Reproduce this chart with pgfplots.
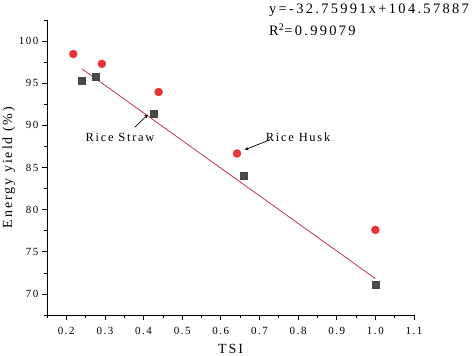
\documentclass[border=0pt]{standalone}
\usepackage{pgfplots}
\pgfplotsset{compat=1.18}
\usepackage{fontspec}
\setmainfont{Liberation Serif}[LetterSpace=14]
\newfontfamily\eqfont{Liberation Serif}[LetterSpace=16]
\definecolor{ptred}{RGB}{232,52,52}
\definecolor{sqgray}{RGB}{72,72,72}
\definecolor{fitred}{RGB}{190,55,65}
\begin{document}
\begin{tikzpicture}
\path[use as bounding box] (-47bp,-41bp) rectangle (427bp,315bp);
\begin{axis}[
  at={(0,0)}, anchor=south west,
  scale only axis, width=367bp, height=295bp,
  xmin=0.15, xmax=1.1, ymin=67.5, ymax=102.5,
  axis lines=left, axis line style={-, line width=0.8pt},
  xtick={0.2,0.3,...,1.1},
  xticklabels={0.2,0.3,0.4,0.5,0.6,0.7,0.8,0.9,1.0,1.1},
  ytick={70,75,...,100},
  minor xtick={0.15,0.25,...,1.05},
  minor ytick={67.5,72.5,...,102.5},
  tick align=outside,
  major tick length=5bp, minor tick length=3bp,
  tick style={line width=0.7pt, black},
  tick label style={font=\fontsize{11}{13}\selectfont},
  xticklabel style={yshift=-4bp},
  /pgf/number format/assume math mode=true,
  xlabel={TSI}, ylabel={Energy yield (\%)},
  label style={font=\fontsize{14}{16}\selectfont},
  xlabel style={yshift=-2bp},
  ylabel style={yshift=-3bp},
  clip=false,
]
\addplot[only marks, mark=*, mark size=4bp, color=ptred] coordinates {
(0.218,98.46) (0.292,97.3) (0.439,93.96) (0.642,86.66) (1.0,77.6)};
\addplot[only marks, mark=square*, mark size=3.5bp, color=sqgray] coordinates {
(0.240,95.34) (0.276,95.74) (0.427,91.4) (0.659,83.97) (1.0,71.15)};
\addplot[fitred, line width=0.8pt] coordinates {(0.241,96.684) (1.0,71.819)};
\draw[-stealth, line width=0.7pt] (axis cs:0.377,89.77) -- (axis cs:0.411,91.28);
\draw[-stealth, line width=0.7pt] (axis cs:0.727,88.29) -- (axis cs:0.662,87.1);
\node[font=\fontsize{12.5}{14}\selectfont] at (axis cs:0.339,88.55) {Rice Straw};
\node[anchor=west, inner sep=0pt, font=\fontsize{12.5}{14}\selectfont] at (axis cs:0.716,88.6) {Rice Husk};
\end{axis}
\node[anchor=base west, inner sep=0pt, font=\eqfont\fontsize{14.5}{16}\selectfont] at (222bp,301bp) {y=-32.75991x+104.57887};
\node[anchor=base west, inner sep=0pt, font=\eqfont\fontsize{14.5}{16}\selectfont] at (222bp,279bp) {R\textsuperscript{2}=0.99079};
\end{tikzpicture}
\end{document}
